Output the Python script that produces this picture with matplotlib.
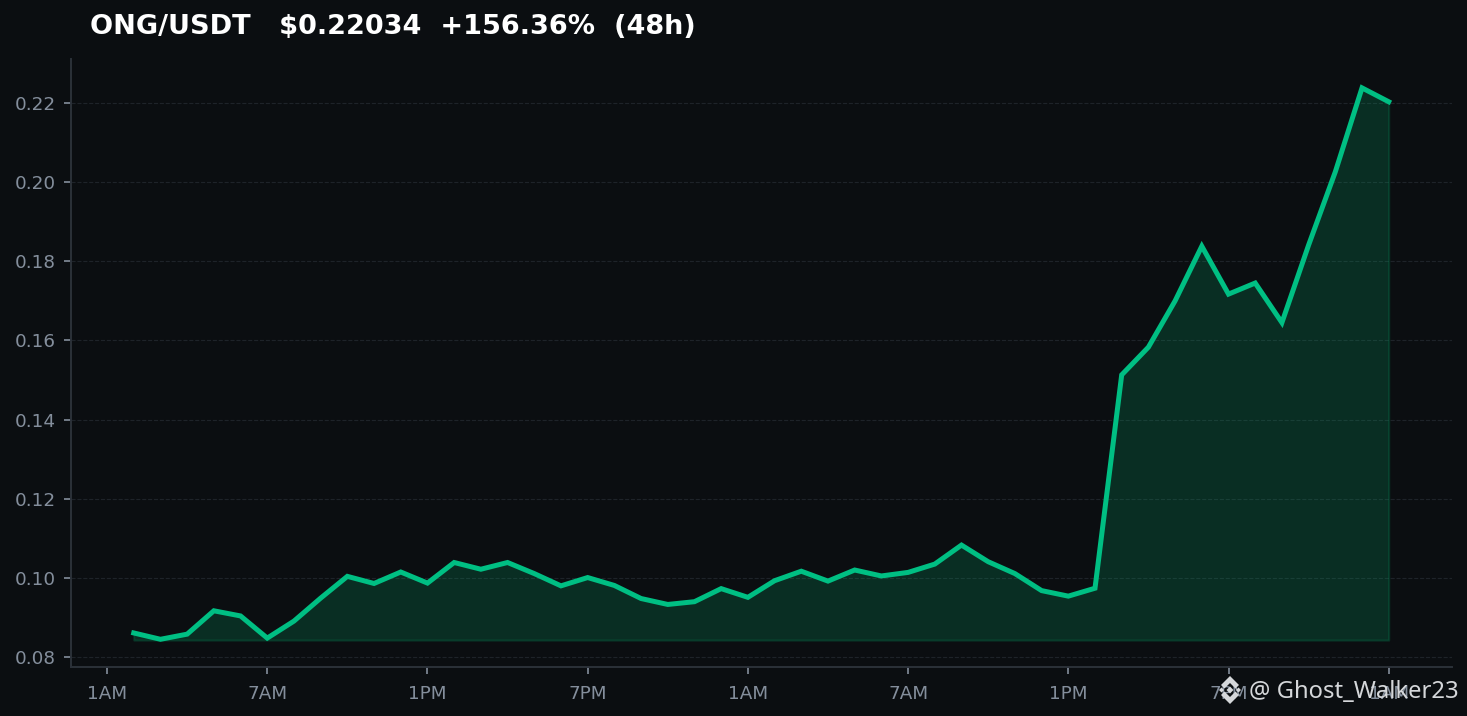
import matplotlib
matplotlib.use("Agg")
import matplotlib.pyplot as plt
from matplotlib.patches import Polygon

# hourly closes
hours = list(range(1, 49))
prices = [0.0861, 0.0845, 0.0858, 0.0917, 0.0904, 0.0848, 0.0891, 0.0949,
          0.1004, 0.0986, 0.1015, 0.0987, 0.1039, 0.1022, 0.1039, 0.1011,
          0.0980, 0.1001, 0.0981, 0.0948, 0.0933, 0.0940, 0.0973, 0.0951,
          0.0993, 0.1017, 0.0992, 0.1020, 0.1005, 0.1014, 0.1035, 0.1083,
          0.1041, 0.1011, 0.0968, 0.0954, 0.0974, 0.1513, 0.1583, 0.1700,
          0.1838, 0.1717, 0.1745, 0.1645, 0.1841, 0.2026, 0.2238, 0.2203]
fill_floor = 0.0843

x_ticks = [0, 6, 12, 18, 24, 30, 36, 42, 48]
x_labels = ["1AM", "7AM", "1PM", "7PM", "1AM", "7AM", "1PM", "7PM", "1AM"]
y_ticks = [0.08, 0.10, 0.12, 0.14, 0.16, 0.18, 0.20, 0.22]

BG = "#0b0e11"
GREEN = "#02c076"
GREY = "#848e9c"
AXIS = "#2b3139"

W, H = 1467, 716
fig = plt.figure(figsize=(W / 100, H / 100), dpi=100, facecolor=BG)
ax = fig.add_axes([71 / W, 1 - 667 / H, (1452 - 71) / W, (667 - 59) / H], facecolor=BG)

ax.fill_between(hours, prices, fill_floor, color=GREEN, alpha=0.18, linewidth=1.5)
ax.plot(hours, prices, color="#00bf83", linewidth=3.6, solid_joinstyle="miter")

ax.set_xlim(-1.35, 50.37)
ax.set_ylim(0.0775, 0.2311)
ax.set_xticks(x_ticks, x_labels)
ax.set_yticks(y_ticks, ["%.2f" % v for v in y_ticks])
ax.tick_params(colors=GREY, labelsize=13.2, length=5, width=1.2, color=GREY, pad=8)
ax.tick_params(axis="y", pad=6)
ax.grid(axis="y", color="#1e2329", linestyle="--", linewidth=0.8)
ax.set_axisbelow(True)
for side in ["top", "right"]:
    ax.spines[side].set_visible(False)
for side in ["left", "bottom"]:
    ax.spines[side].set_color(AXIS)
    ax.spines[side].set_linewidth(1.4)

fig.text(90 / W, 1 - 27 / H, "ONG/USDT   $0.22034  +156.36%  (48h)",
         color="white", fontsize=19.5, fontweight="bold", va="center", ha="left")

# watermark
WM = "#d5d7da"
fig.text(1249 / W, 1 - 692 / H, "@ Ghost_Walker23", color=WM, fontsize=17.15,
         va="center", ha="left", family="Noto Sans")

# logo
cx, cy = 1230, 690
logo_shapes = [
    [(-9, -5), (0, -14), (9, -5), (5.5, -1.5), (0, -7), (-5.5, -1.5)],
    [(-9, 5), (0, 14), (9, 5), (5.5, 1.5), (0, 7), (-5.5, 1.5)],
    [(-3.5, 0), (0, -3.5), (3.5, 0), (0, 3.5)],
    [(-11, 0), (-8.5, -2.5), (-6, 0), (-8.5, 2.5)],
    [(11, 0), (8.5, -2.5), (6, 0), (8.5, 2.5)],
]
for shape in logo_shapes:
    fig.patches.append(Polygon([((cx + dx) / W, 1 - (cy + dy) / H) for dx, dy in shape],
                               transform=fig.transFigure, facecolor=WM, edgecolor="none"))

fig.savefig("out.png", dpi=100, facecolor=BG)
